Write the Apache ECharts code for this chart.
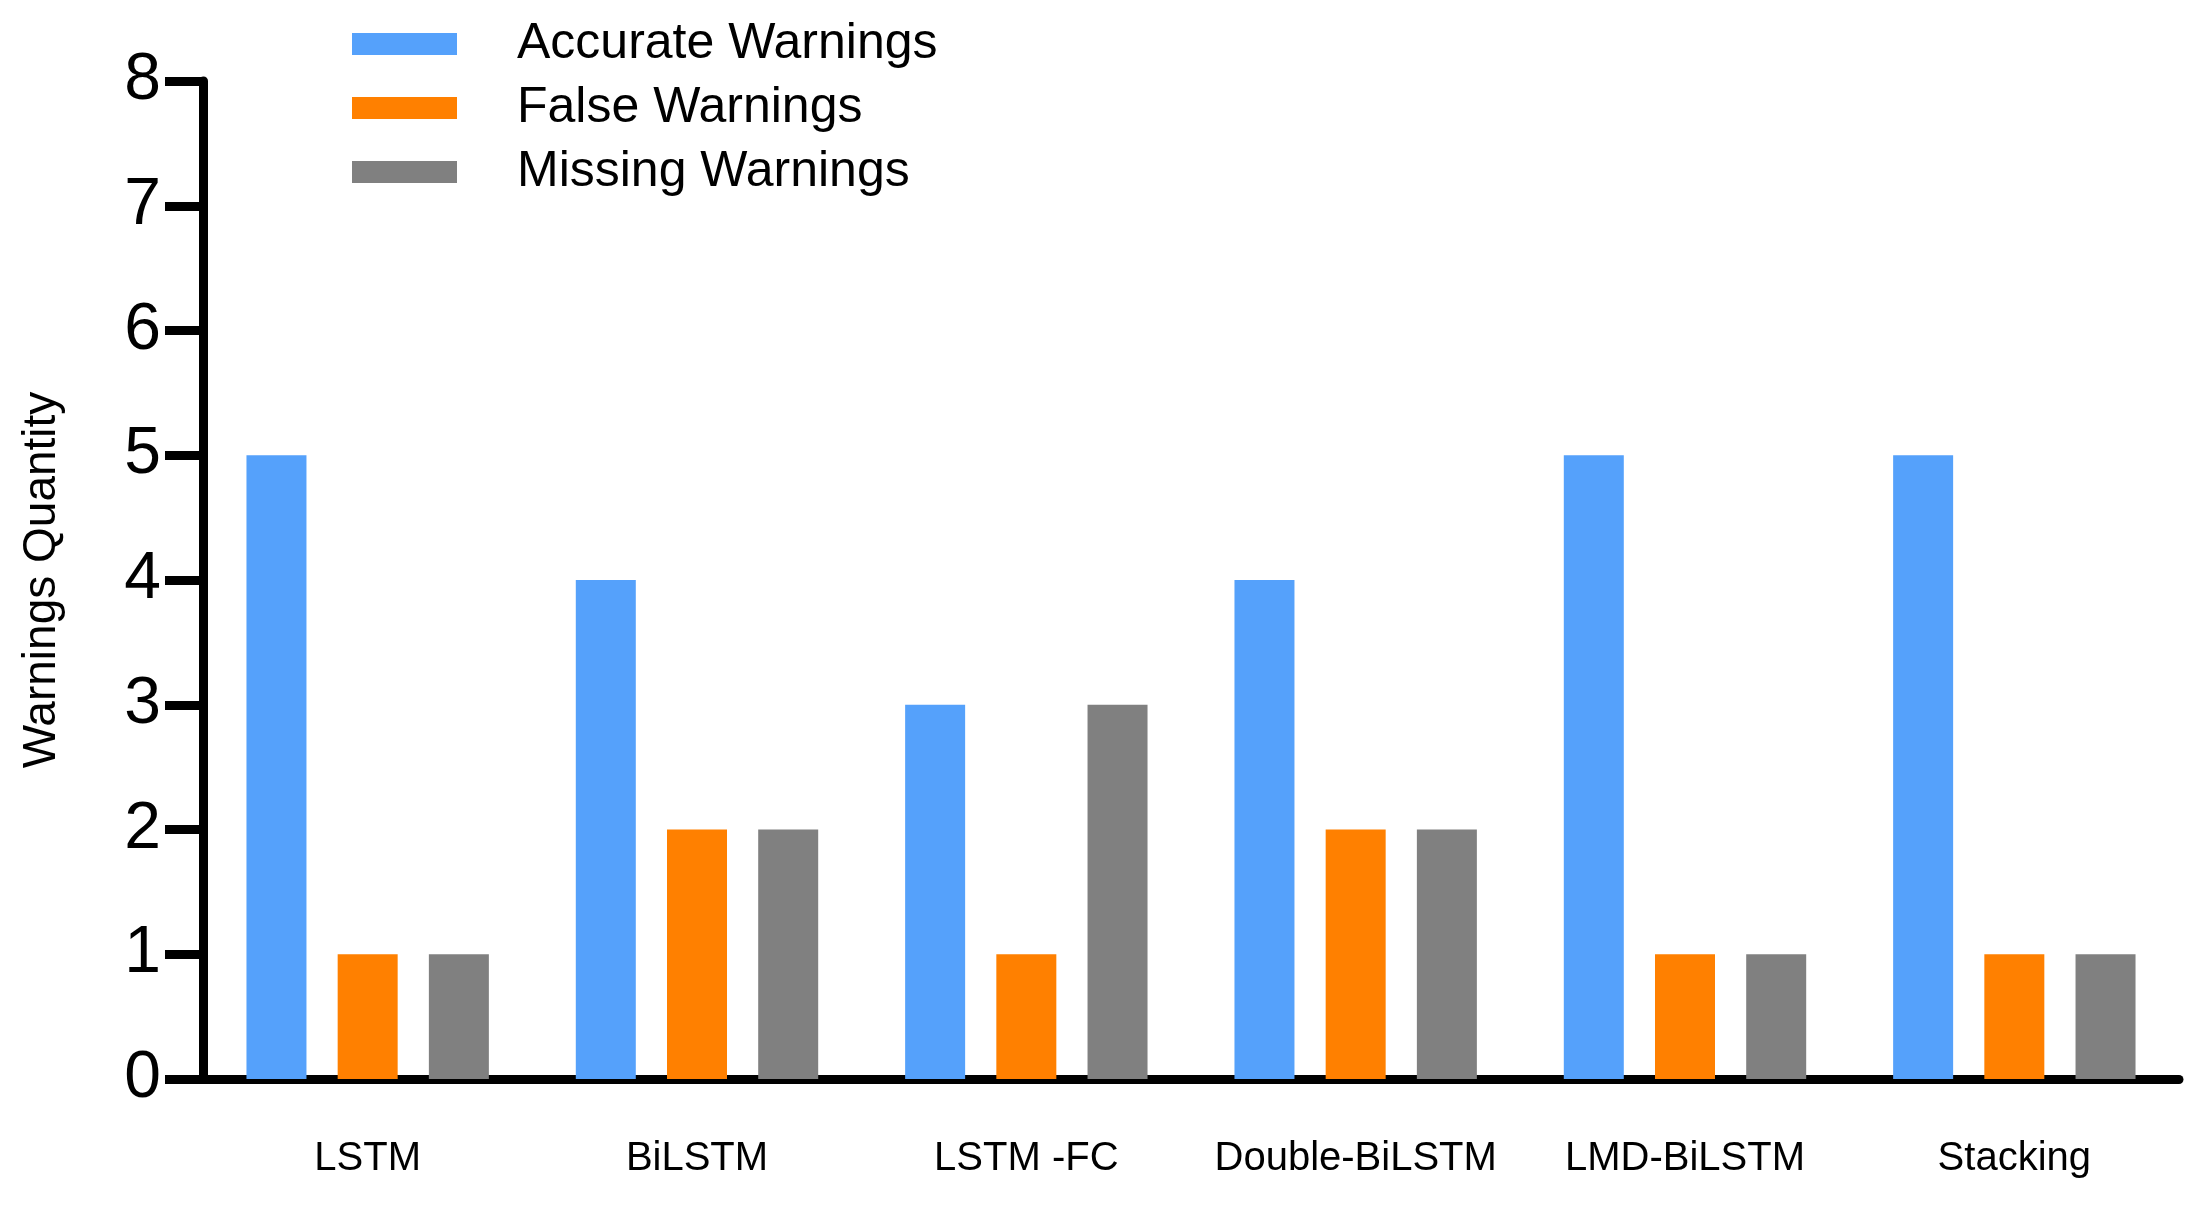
<!DOCTYPE html>
<html><head><meta charset="utf-8">
<script src="https://cdn.jsdelivr.net/npm/echarts@6/dist/echarts.min.js"></script>
<style>html,body{margin:0;padding:0;background:#fff}#c{width:2197px;height:1205px}</style>
</head><body><div id="c"></div>
<script>
var models = ['LSTM', 'BiLSTM', 'LSTM -FC', 'Double-BiLSTM', 'LMD-BiLSTM', 'Stacking'];
var accurate = [5, 4, 3, 4, 5, 5];
var falseW = [1, 2, 1, 2, 1, 1];
var missing = [1, 2, 3, 2, 1, 1];

var ch = echarts.init(document.getElementById('c'));
var font = 'Arial, "Liberation Sans", sans-serif';
var option = {
    animation: false,
    textStyle: {fontFamily: font},
    legend: {
        orient: 'vertical',
        left: 347, top: 14,
        itemWidth: 105, itemHeight: 22, itemGap: 14,
        icon: 'rect',
        textStyle: {fontSize: 50, color: '#000', padding: [0, 0, 0, 55]},
        data: ['Accurate Warnings', 'False Warnings', 'Missing Warnings']
    },
    grid: {left: 203, right: 18, top: 81, bottom: 126},
    xAxis: {
        type: 'category',
        data: models,
        axisLine: {lineStyle: {color: '#000', width: 9}},
        axisTick: {alignWithLabel: true, interval: 0, length: 42, lineStyle: {color: '#000', width: 12}},
        axisLabel: {interval: 0, fontSize: 40, color: '#000', margin: 60}
    },
    yAxis: {
        type: 'value', min: 0, max: 8, interval: 1,
        name: 'Warnings Quantity', nameLocation: 'middle', nameGap: 138,
        nameTextStyle: {fontSize: 46, color: '#000'},
        axisLine: {show: true, lineStyle: {color: '#000', width: 9}},
        axisTick: {show: true, length: 38, lineStyle: {color: '#000', width: 9}},
        axisLabel: {fontSize: 66, color: '#000', margin: 42},
        splitLine: {show: false}
    },
    series: [
        {name: 'Accurate Warnings', type: 'bar', data: accurate, barWidth: 60, barGap: '52%', itemStyle: {color: '#55a1fb'}},
        {name: 'False Warnings', type: 'bar', data: falseW, barWidth: 60, barGap: '52%', itemStyle: {color: '#ff8000'}},
        {name: 'Missing Warnings', type: 'bar', data: missing, barWidth: 60, barGap: '52%', itemStyle: {color: '#808080'}}
    ]
};
ch.setOption(option);
</script></body></html>
